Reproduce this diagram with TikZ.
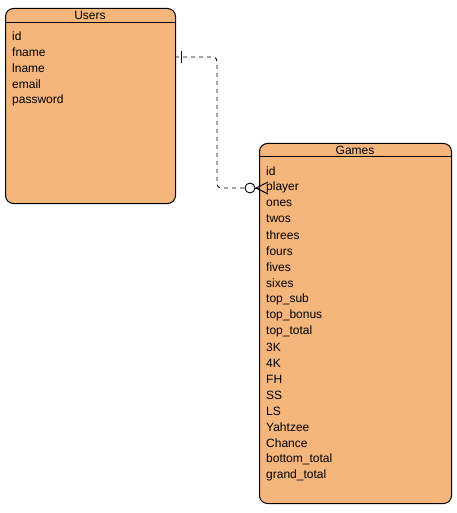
\documentclass[tikz,border=0pt]{standalone}
\usepackage{fontspec}
\setmainfont{Liberation Sans}
\usetikzlibrary{positioning}
\definecolor{tablefill}{HTML}{F4B67B}
\tikzset{
  table/.style={draw, fill=tablefill, rounded corners=8pt, line width=1pt, anchor=north west, inner sep=0pt},
  title/.style={inner sep=0pt, font=\fontsize{12}{14}\selectfont},
  field/.style={anchor=west, inner sep=0pt, font=\fontsize{12}{14}\selectfont},
  relation/.style={line width=0.9pt, dash pattern=on 4pt off 4pt, rounded corners=4pt}
}
\begin{document}
\begin{tikzpicture}[x=1pt,y=-1pt]
    \useasboundingbox (0,0) rectangle (456,513);
    % Users table
    \node [table, minimum width=170pt, minimum height=195pt] (users) at (5,8) {};
    \draw [line width=1pt] ([yshift=-14.5pt]users.north west) -- ([yshift=-14.5pt]users.north east);
    \node [title] (users-title) at (90,15.8) {Users};
    \foreach \f [count=\i] in {id,fname,lname,email,password}
        \node [field] (users-\i) at (12,20+16*\i) {\f};
    % Games table
    \node [table, minimum width=192pt, minimum height=360pt] (games) at (259,143) {};
    \draw [line width=1pt] ([yshift=-13.5pt]games.north west) -- ([yshift=-13.5pt]games.north east);
    \node [title] (games-title) at (355,150.5) {Games};
    \foreach \f [count=\i] in {id,player,ones,twos,threes,fours,fives,sixes,top\_sub,top\_bonus,top\_total,3K,4K,FH,SS,LS,Yahtzee,Chance,bottom\_total,grand\_total}
        \node [field] (games-\i) at (266,155+16*\i) {\f};
    % relation
    \coordinate (from) at (175,57);
    \coordinate (to) at (259,188);
    \coordinate (bend) at (217,57);
    \node [draw, circle, line width=0.9pt, minimum size=10pt, inner sep=0pt] (many-opt) at (250,188) {};
    \draw [relation] (from) -- (bend) -- (bend |- to) -- (many-opt.west);
    \draw [line width=0.9pt] (181,51) -- (181,63);
    \draw [line width=0.9pt] (many-opt.east) -- (to);
    \draw [line width=0.9pt] (268,182) -- (256,188) -- (268,194);
\end{tikzpicture}
\end{document}
